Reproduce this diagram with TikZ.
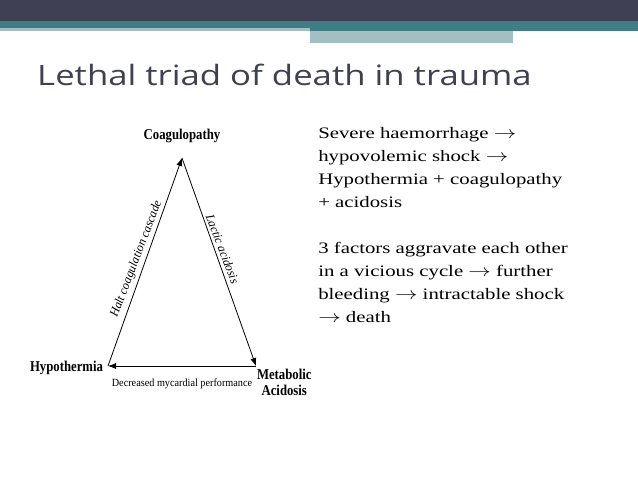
\documentclass[tikz,border=0pt]{standalone}
\usepackage{fontspec}
\usetikzlibrary{arrows.meta,calc}
\setmainfont{Liberation Serif}
\newfontfamily\titlefont{Open Sans}
\definecolor{bandd}{HTML}{404055}
\definecolor{bandt}{HTML}{417D84}
\definecolor{bandl}{HTML}{A2BFC2}
\begin{document}
\begin{tikzpicture}[x=1pt,y=-1pt,
  lbl/.style={font=\bfseries\fontsize{15}{16}\selectfont, inner sep=1pt, xscale=0.85},
  elbl/.style={font=\itshape\fontsize{12}{13}\selectfont, inner sep=3pt, xscale=1.05},
  edge/.style={draw, line width=0.8pt, -{Latex[length=8pt,width=6pt]}}]
\useasboundingbox (0,0) rectangle (638,479);
\fill[bandd] (0,0) rectangle (638,21);
\fill[bandt] (0,21) rectangle (638,31);
\fill[bandl] (0,28) rectangle (310,31);
\fill[bandl] (310,31) rectangle (513,43);
\node[anchor=base west, text=bandd, font=\titlefont\fontsize{28}{30}\selectfont, inner sep=0, xscale=1.24] (title) at (37,85) {Lethal triad of death in trauma};
\coordinate (top) at (182,158);
\coordinate (bl) at (108,366);
\coordinate (br) at (256,366);
\node[lbl] (coag) at (182,136) {Coagulopathy};
\node[lbl, anchor=east] (hyp) at (104,368) {Hypothermia};
\node[lbl, anchor=west, align=center] (met) at (256,382) {Metabolic\\Acidosis};
\draw[edge] (bl) -- (top);
\draw[edge] (top) -- (br);
\draw[edge] (br) -- (bl);
\node[elbl, rotate=70, anchor=south] (hc) at ($(bl)!0.5!(top)$) {Halt coagulation cascade};
\node[elbl, rotate=-70, anchor=south] (la) at ($(top)!0.45!(br)$) {Lactic acidosis};
\node[font=\fontsize{11}{12}\selectfont, anchor=north, xscale=0.93, inner sep=1pt] (dm) at (182,378) {Decreased mycardial performance};
\node[anchor=north west, align=left, inner sep=0, xscale=1.3, font=\fontsize{16}{23}\selectfont] (txt) at (318,127)
{Severe haemorrhage \(\rightarrow\)\\ hypovolemic shock \(\rightarrow\)\\ Hypothermia + coagulopathy\\ + acidosis\\[23pt] 3 factors aggravate each other\\ in a vicious cycle \(\rightarrow\) further\\ bleeding \(\rightarrow\) intractable shock\\ \(\rightarrow\) death};
\end{tikzpicture}
\end{document}
